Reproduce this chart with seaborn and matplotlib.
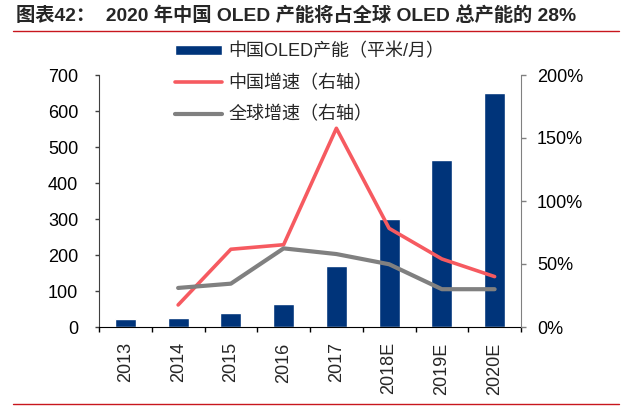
import numpy as np
import pandas as pd
import matplotlib
matplotlib.use("Agg")
import matplotlib.pyplot as plt
from matplotlib.lines import Line2D
from matplotlib.ticker import MultipleLocator, PercentFormatter
import seaborn as sns

# data
years = ["2013", "2014", "2015", "2016", "2017", "2018E", "2019E", "2020E"]
cn_capacity = [21, 25, 40, 65, 169, 301, 465, 650]
cn_growth = [np.nan, 0.175, 0.617, 0.653, 1.577, 0.783, 0.54, 0.40]
global_growth = [np.nan, 0.31, 0.344, 0.624, 0.579, 0.498, 0.30, 0.30]

title = "图表42：  2020 年中国 OLED 产能将占全球 OLED 总产能的 28%"
bar_label = "中国OLED产能（平米/月）"
cn_label = "中国增速（右轴）"
gl_label = "全球增速（右轴）"

NAVY = "#00347A"
PINK = "#F65A60"
GREY = "#808080"
RULE = "#C8161D"

sns.set_style("white")
plt.rcParams["font.family"] = ["Liberation Sans", "Noto Sans CJK SC", "DejaVu Sans"]

df = pd.DataFrame({"year": years, "cap": cn_capacity,
                   "cn": cn_growth, "gl": global_growth})
df["pos"] = np.arange(len(df))

fig = plt.figure(figsize=(6.4, 4.13), dpi=100)
ax = fig.add_axes([99 / 640, 1 - 327 / 413, 422 / 640, 252 / 413])

sns.barplot(data=df, x="year", y="cap", color=NAVY, width=0.4,
            saturation=1, ax=ax, label=bar_label)

ax2 = ax.twinx()
sns.lineplot(data=df.dropna(subset=["cn"]), x="pos", y="cn", color=PINK,
             lw=2.6, ax=ax2, label=cn_label, legend=False)
sns.lineplot(data=df.dropna(subset=["gl"]), x="pos", y="gl", color=GREY,
             lw=3, ax=ax2, label=gl_label, legend=False)

# left axis
ax.set_ylim(0, 700)
ax.yaxis.set_major_locator(MultipleLocator(100))
ax.set_xlim(-0.5, len(years) - 0.5)
ax.set_xlabel("")
ax.set_ylabel("")
ax.tick_params(axis="y", left=True, length=2.9, width=1, color="#404040",
               pad=12, labelsize=13, labelcolor="black")
ax.tick_params(axis="x", which="major", length=0, pad=11, labelsize=13,
               rotation=90)
ax.set_xticks(np.arange(len(years) + 1) - 0.5, minor=True)
ax.tick_params(axis="x", which="minor", bottom=True, length=3.6, width=1,
               color="black")
for s in ["top", "right"]:
    ax.spines[s].set_visible(False)
ax.spines["left"].set_color("#404040")
ax.spines["bottom"].set_color("black")

# right axis
ax2.set_ylim(0, 2)
ax2.yaxis.set_major_locator(MultipleLocator(0.5))
ax2.yaxis.set_major_formatter(PercentFormatter(1, decimals=0))
ax2.set_ylabel("")
ax2.tick_params(axis="y", right=True, length=3.6, width=1, color=GREY,
                pad=8, labelsize=13, labelcolor="black")
for s in ["top", "left", "bottom"]:
    ax2.spines[s].set_visible(False)
ax2.spines["right"].set_color(GREY)

for a in (ax, ax2):
    if a.get_legend() is not None:
        a.get_legend().remove()

h1, l1 = ax.get_legend_handles_labels()
h2, l2 = ax2.get_legend_handles_labels()
fig.legend(h1 + h2, l1 + l2, loc="upper left",
           bbox_to_anchor=(175 / 640, 1 - 43 / 413), frameon=False,
           borderpad=0, borderaxespad=0, handlelength=2.6, handleheight=0.5,
           handletextpad=0.35, labelspacing=0.8, fontsize=13)

# title and red rules
fig.text(16 / 640, 1 - 16 / 413, title, fontsize=13.9, fontweight="bold",
         ha="left", va="center")
fig.add_artist(Line2D([13 / 640, 619 / 640], [1 - 31 / 413] * 2,
                      color=RULE, lw=1))
fig.add_artist(Line2D([13 / 640, 619 / 640], [1 - 404 / 413] * 2,
                      color=RULE, lw=1))

fig.savefig("out.png", dpi=100)
